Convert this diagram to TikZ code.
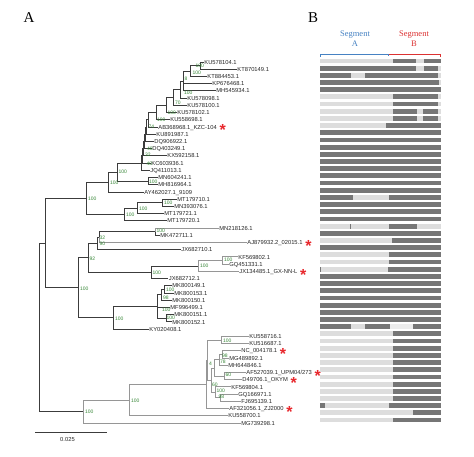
\documentclass[tikz,border=0pt]{standalone}
\usepackage{fontspec}
\setmainfont{Liberation Serif}
\newfontfamily\lsans{Liberation Sans}
\definecolor{tdark}{RGB}{60,60,60}
\definecolor{tgray}{RGB}{150,150,150}
\definecolor{bsgreen}{RGB}{55,135,55}
\definecolor{barl}{RGB}{221,221,221}
\definecolor{barw}{RGB}{236,236,236}
\definecolor{bard}{RGB}{118,118,118}
\definecolor{segA}{RGB}{70,130,195}
\definecolor{segB}{RGB}{220,50,50}
\definecolor{starred}{RGB}{232,40,45}
\begin{document}
\begin{tikzpicture}[x=1pt,y=-1pt,
  br/.style={draw=tdark,line width=0.85pt},
  brg/.style={draw=tgray,line width=0.85pt},
  leaf/.style={anchor=west,font=\lsans\fontsize{5.8}{6}\selectfont,text=black!85,inner sep=0.7pt,text height=4.2pt,text depth=0pt},
  bsl/.style={anchor=west,font=\lsans\fontsize{5}{5}\selectfont,text=bsgreen,inner sep=0.3pt,text height=3.6pt,text depth=0pt},
  redstar/.style={font=\lsans\bfseries\fontsize{16}{16}\selectfont,text=starred,inner sep=0pt},
  panel/.style={font=\fontsize{15}{15}\selectfont,inner sep=0pt},
  seglab/.style={font=\fontsize{8.5}{9}\selectfont,anchor=base,inner sep=0pt}]
\useasboundingbox (0,0) rectangle (474,457);
\fill[white] (0,0) rectangle (474,457);

% panel letters
\node[panel] (pA) at (29,18) {A};
\node[panel] (pB) at (313,18) {B};

% ---------- leaves ----------
\coordinate (e1) at (203.5,62.0);  \node[leaf] (t1) at (e1) {KU578104.1};
\coordinate (e2) at (236.5,69.2);  \node[leaf] (t2) at (e2) {KT870149.1};
\coordinate (e3) at (206.5,76.4);  \node[leaf] (t3) at (e3) {KT884453.1};
\coordinate (e4) at (211.5,83.7);  \node[leaf] (t4) at (e4) {KP676468.1};
\coordinate (e5) at (215.5,90.9);  \node[leaf] (t5) at (e5) {MH545934.1};
\coordinate (e6) at (186.5,98.1);  \node[leaf] (t6) at (e6) {KU578098.1};
\coordinate (e7) at (186.5,105.3); \node[leaf] (t7) at (e7) {KU578100.1};
\coordinate (e8) at (176.5,112.5); \node[leaf] (t8) at (e8) {KU578102.1};
\coordinate (e9) at (169.5,119.8); \node[leaf] (t9) at (e9) {KU558698.1};
\coordinate (e10) at (157.5,127.0); \node[leaf] (t10) at (e10) {AB368968.1\_KZC-104};
\coordinate (e11) at (155.5,134.2); \node[leaf] (t11) at (e11) {KU891987.1};
\coordinate (e12) at (153.5,141.4); \node[leaf] (t12) at (e12) {DQ906922.1};
\coordinate (e13) at (151.5,148.6); \node[leaf] (t13) at (e13) {DQ403249.1};
\coordinate (e14) at (166.5,155.9); \node[leaf] (t14) at (e14) {KX592158.1};
\coordinate (e15) at (150.5,163.1); \node[leaf] (t15) at (e15) {KC603936.1};
\coordinate (e16) at (149.5,170.3); \node[leaf] (t16) at (e16) {JQ411013.1};
\coordinate (e17) at (157.5,177.5); \node[leaf] (t17) at (e17) {MN604241.1};
\coordinate (e18) at (157.5,184.7); \node[leaf] (t18) at (e18) {MH816964.1};
\coordinate (e19) at (143.5,192.0); \node[leaf] (t19) at (e19) {AY462027.1\_9109};
\coordinate (e20) at (176.5,199.2); \node[leaf] (t20) at (e20) {MT179710.1};
\coordinate (e21) at (173.5,206.4); \node[leaf] (t21) at (e21) {MN393076.1};
\coordinate (e22) at (163.5,213.6); \node[leaf] (t22) at (e22) {MT179721.1};
\coordinate (e23) at (166.5,220.8); \node[leaf] (t23) at (e23) {MT179720.1};
\coordinate (e24) at (218.5,228.1); \node[leaf] (t24) at (e24) {MN218126.1};
\coordinate (e25) at (159.5,235.3); \node[leaf] (t25) at (e25) {MK472711.1};
\coordinate (e26) at (246.5,242.5); \node[leaf] (t26) at (e26) {AJ879932.2\_02015.1};
\coordinate (e27) at (180.5,249.7); \node[leaf] (t27) at (e27) {JX682710.1};
\coordinate (e28) at (237.5,256.9); \node[leaf] (t28) at (e28) {KF569802.1};
\coordinate (e29) at (228.5,264.2); \node[leaf] (t29) at (e29) {GQ451331.1};
\coordinate (e30) at (238.5,271.4); \node[leaf] (t30) at (e30) {JX134485.1\_GX-NN-L};
\coordinate (e31) at (168.0,278.6); \node[leaf] (t31) at (e31) {JX682712.1};
\coordinate (e32) at (171.5,285.8); \node[leaf] (t32) at (e32) {MK800149.1};
\coordinate (e33) at (173.5,293.0); \node[leaf] (t33) at (e33) {MK800153.1};
\coordinate (e34) at (171.5,300.3); \node[leaf] (t34) at (e34) {MK800150.1};
\coordinate (e35) at (169.5,307.5); \node[leaf] (t35) at (e35) {MF996499.1};
\coordinate (e36) at (173.5,314.7); \node[leaf] (t36) at (e36) {MK800151.1};
\coordinate (e37) at (171.5,321.9); \node[leaf] (t37) at (e37) {MK800152.1};
\coordinate (e38) at (148.5,329.1); \node[leaf] (t38) at (e38) {KY020408.1};
\coordinate (e39) at (248.5,336.4); \node[leaf] (t39) at (e39) {KU558716.1};
\coordinate (e40) at (248.5,343.6); \node[leaf] (t40) at (e40) {KU516687.1};
\coordinate (e41) at (240.5,350.8); \node[leaf] (t41) at (e41) {NC\_004178.1};
\coordinate (e42) at (228.5,358.0); \node[leaf] (t42) at (e42) {MG489892.1};
\coordinate (e43) at (227.5,365.2); \node[leaf] (t43) at (e43) {MH644846.1};
\coordinate (e44) at (245.5,372.5); \node[leaf] (t44) at (e44) {AF527039.1\_UPM04/273};
\coordinate (e45) at (241.5,379.7); \node[leaf] (t45) at (e45) {D49706.1\_OKYM};
\coordinate (e46) at (230.5,386.9); \node[leaf] (t46) at (e46) {KF569804.1};
\coordinate (e47) at (237.5,394.1); \node[leaf] (t47) at (e47) {GQ166971.1};
\coordinate (e48) at (240.5,401.3); \node[leaf] (t48) at (e48) {FJ695139.1};
\coordinate (e49) at (228.5,408.6); \node[leaf] (t49) at (e49) {AF321056.1\_ZJ2000};
\coordinate (e50) at (227.5,415.8); \node[leaf] (t50) at (e50) {KU558700.1};
\coordinate (e51) at (240.5,423.0); \node[leaf] (t51) at (e51) {MG739298.1};

% stars
\foreach \k in {10,26,30,41,44,45,49}
  \node[redstar] (s\k) at ([xshift=5pt,yshift=-3.4pt]t\k.east) {*};

% ---------- internal nodes ----------
\coordinate (n1) at (200,65.6);
\coordinate (n2) at (190,71.0);
\coordinate (n3) at (183,81.0);
\coordinate (n4) at (180,89.55);
\coordinate (n5) at (173,97.4);
\coordinate (n6) at (166,105.0);
\coordinate (n7) at (156,112.4);
\coordinate (n8) at (148,119.7);
\coordinate (n9) at (146.5,127.0);
\coordinate (n10) at (145,134.2);
\coordinate (n11) at (144,141.4);
\coordinate (n12) at (143,148.6);
\coordinate (n13) at (142,155.9);
\coordinate (n14) at (141,163.1);
\coordinate (nF) at (148,181.1);
\coordinate (nD) at (117,172.1);
\coordinate (nC) at (108,182.05);
\coordinate (nPMT) at (162,202.8);
\coordinate (nG2) at (137,208.2);
\coordinate (nG) at (124,214.5);
\coordinate (nB) at (86,198.3);
\coordinate (nPMN) at (155,231.7);
\coordinate (nJ2) at (99,237.1);
\coordinate (nJ1) at (97,243.4);
\coordinate (nM) at (222,260.55);
\coordinate (nL) at (198,266.0);
\coordinate (nK) at (151,272.3);
\coordinate (nI) at (88,257.85);
\coordinate (nP1) at (164,289.4);
\coordinate (nP2) at (161,294.85);
\coordinate (nP3) at (166,318.3);
\coordinate (nO) at (157,306.6);
\coordinate (nN) at (113,317.85);
\coordinate (nH) at (78,287.85);
\coordinate (nA) at (45,243.1);
\coordinate (nX) at (221,340.0);
\coordinate (nUa) at (222,354.4);
\coordinate (nUb) at (219,359.8);
\coordinate (nV) at (224,376.1);
\coordinate (nUc) at (214,367.95);
\coordinate (nW2) at (220,397.7);
\coordinate (nW) at (215,392.3);
\coordinate (nU0) at (211,380.1);
\coordinate (nT1) at (207.5,360.05);
\coordinate (nT) at (206,384.3);
\coordinate (nS) at (129,400.05);
\coordinate (nQ) at (83,411.5);
\coordinate (nR) at (39,327.3);

% ---------- branches ----------
\draw[br] (n1) |- (e1) (n1) |- (e2);
\draw[br] (n2) |- (n1) (n2) |- (e3);
\draw[br] (n3) |- (n2) (n3) |- (e4) (n3) |- (e5);
\draw[br] (n4) |- (n3) (n4) |- (e6);
\draw[br] (n5) |- (n4) (n5) |- (e7);
\draw[br] (n6) |- (n5) (n6) |- (e8);
\draw[br] (n7) |- (n6) (n7) |- (e9);
\draw[br] (n8) |- (n7) (n8) |- (e10);
\draw[br] (n9) |- (n8) (n9) |- (e11);
\draw[br] (n10) |- (n9) (n10) |- (e12);
\draw[br] (n11) |- (n10) (n11) |- (e13);
\draw[br] (n12) |- (n11) (n12) |- (e14);
\draw[br] (n13) |- (n12) (n13) |- (e15);
\draw[br] (n14) |- (n13) (n14) |- (e16);
\draw[br] (nF) |- (e17) (nF) |- (e18);
\draw[br] (nD) |- (n14) (nD) |- (nF);
\draw[br] (nC) |- (nD) (nC) |- (e19);
\draw[br] (nPMT) |- (e20) (nPMT) |- (e21);
\draw[br] (nG2) |- (nPMT) (nG2) |- (e22);
\draw[br] (nG) |- (nG2) (nG) |- (e23);
\draw[br] (nB) |- (nC) (nB) |- (nG);
\draw[brg] (nPMN) |- (e24);
\draw[br] (nPMN) |- (e25);
\draw[brg] (nJ2) |- (e26);
\draw[br] (nJ2) |- (nPMN);
\draw[br] (nJ1) |- (nJ2) (nJ1) |- (e27);
\draw[brg] (nM) |- (e28) (nM) |- (e29);
\draw[brg] (nL) |- (nM) (nL) |- (e30);
\draw[br] (nK) |- (nL) (nK) |- (e31);
\draw[br] (nI) |- (nJ1) (nI) |- (nK);
\draw[br] (nP1) |- (e32) (nP1) |- (e33);
\draw[br] (nP2) |- (nP1) (nP2) |- (e34);
\draw[br] (nP3) |- (e36) (nP3) |- (e37);
\draw[br] (nO) |- (nP2) (nO) |- (e35) (nO) |- (nP3);
\draw[br] (nN) |- (nO) (nN) |- (e38);
\draw[br] (nH) |- (nI) (nH) |- (nN);
\draw[br] (nA) |- (nB) (nA) |- (nH);
\draw[brg] (nX) |- (e39) (nX) |- (e40);
\draw[brg] (nUa) |- (e41) (nUa) |- (e42);
\draw[brg] (nUb) |- (nUa) (nUb) |- (e43);
\draw[brg] (nV) |- (e44) (nV) |- (e45);
\draw[brg] (nUc) |- (nUb) (nUc) |- (nV);
\draw[brg] (nW2) |- (e47) (nW2) |- (e48);
\draw[brg] (nW) |- (e46) (nW) |- (nW2);
\draw[brg] (nU0) |- (nUc) (nU0) |- (nW);
\draw[brg] (nT1) |- (nX) (nT1) |- (nU0);
\draw[brg] (nT) |- (nT1) (nT) |- (e49);
\draw[brg] (nS) |- (nT) (nS) |- (e50);
\draw[brg] (nQ) |- (nS) (nQ) |- (e51);
\draw[br] (nR) |- (nA) (nR) |- (nQ);

% ---------- bootstrap values ----------
\node[bsl] (b1) at (195,66.2) {100};
\node[bsl] (b2) at (192,72.8) {100};
\node[bsl] (b3) at (184,79) {8};
\node[bsl] (b4) at (183.5,93) {100};
\node[bsl] (b5) at (174.5,103) {70};
\node[bsl] (b6) at (167,113) {100};
\node[bsl] (b7) at (156.5,120) {100};
\node[bsl] (b8) at (148,127) {74};
\node[bsl] (b11) at (146.5,149) {40};
\node[bsl] (b12) at (144.5,154.5) {32};
\node[bsl] (b13) at (146,163.5) {40};
\node[bsl] (bF) at (148.5,182) {100};
\node[bsl] (bD) at (118,172) {100};
\node[bsl] (bC) at (109.5,183) {100};
\node[bsl] (bB) at (87.5,199) {100};
\node[bsl] (bPMT) at (163.5,203) {100};
\node[bsl] (bG2) at (138.5,209) {100};
\node[bsl] (bG) at (125.5,215) {100};
\node[bsl] (bPMN) at (156,231.1) {100};
\node[bsl] (bJ2) at (99,238) {32};
\node[bsl] (bJ1) at (99,244) {90};
\node[bsl] (bI) at (89,258.5) {92};
\node[bsl] (bM) at (223.5,259.9) {100};
\node[bsl] (bL) at (199.5,265.5) {100};
\node[bsl] (bK) at (152,273) {100};
\node[bsl] (bH) at (79.5,289) {100};
\node[bsl] (bP1) at (165.5,290) {100};
\node[bsl] (bP2) at (162.5,298) {98};
\node[bsl] (bO) at (161.5,310) {100};
\node[bsl] (bP3) at (166,317.7) {100};
\node[bsl] (bN) at (114.5,319) {100};
\node[bsl] (bX) at (222.5,340.5) {100};
\node[bsl] (bUa) at (221.5,355.3) {98};
\node[bsl] (bUb) at (219.5,362) {78};
\node[bsl] (bT1) at (208.5,364) {4};
\node[bsl] (bV) at (225,374.5) {60};
\node[bsl] (bU0) at (211.5,385) {60};
\node[bsl] (bW) at (216,391) {100};
\node[bsl] (bW2) at (218,397) {98};
\node[bsl] (bS) at (130.5,401) {100};
\node[bsl] (bQ) at (84.5,412) {100};

% scale bar
\coordinate (sc1) at (35,432);
\coordinate (sc2) at (107,432);
\draw[br,line width=0.75pt] (sc1) -- (sc2);
\node[font=\lsans\fontsize{5.8}{6}\selectfont,text=black!85] (scl) at (67.5,440) {0.025};

% ---------- panel B header ----------
\node[seglab,text=segA] (sa1) at (355,36.5) {Segment};
\node[seglab,text=segA] (sa2) at (355,47) {A};
\node[seglab,text=segB] (sb1t) at (414,36.5) {Segment};
\node[seglab,text=segB] (sb2t) at (414,47) {B};
\coordinate (ka) at (320,54);
\coordinate (km) at (388.5,54);
\coordinate (kb) at (440.5,54);
\draw[segA,line width=0.6pt] ([yshift=-3pt]ka) -- (ka) -- (km) -- ([yshift=-2pt]km);
\draw[segB,line width=0.6pt] (km) -- (kb) -- ([yshift=-3pt]kb);

% ---------- panel B bars ----------
\foreach \r/\segs in {
  1/{393.3/415.7,424/441},
  2/{320/415.7,424/437.7},
  3/{320/350.7,365/437.7},
  4/{320/439},
  5/{320/441},
  6/{393.3/437.7},
  7/{393.3/437.7},
  8/{393.3/416.7,423.3/437.7},
  9/{393.3/416.7,423.3/437.7},
  10/{386/441},
  11/{320/441},12/{320/441},13/{320/441},14/{320/441},15/{320/441},
  16/{320/441},17/{320/441},18/{320/441},19/{320/441},
  20/{320/353.3,389.3/441},
  21/{320/441},22/{320/441},23/{320/441},
  24/{349.7/350.6,388.7/417.3},
  25/{320/441},
  26/{391.7/441},
  27/{320/441},
  28/{388.7/441},
  29/{388.7/441},
  30/{320/321,387.7/441},
  31/{320/441},32/{320/441},33/{320/441},34/{320/441},35/{320/441},36/{320/441},37/{320/441},
  38/{320/350.7,365/390,413.3/441},
  39/{393.3/441},40/{393.3/441},41/{393.3/441},42/{393.3/441},43/{393.3/441},
  44/{393.3/441},45/{393.3/441},46/{393.3/441},47/{393.3/441},48/{393.3/441},
  49/{320/325,389.3/441},
  50/{412.7/441},
  51/{393.3/441}}{
  \pgfmathsetmacro\yy{61+(\r-1)*7.18}
  \fill[barl] (320,\yy-2.4) rectangle (441,\yy+2.4);
  \foreach \a/\b in \segs { \fill[bard] (\a,\yy-2.4) rectangle (\b,\yy+2.4); }
}
\pgfmathsetmacro\yw{61+37*7.18}
\fill[barw] (390,\yw-2.4) rectangle (413.3,\yw+2.4);
\end{tikzpicture}
\end{document}
